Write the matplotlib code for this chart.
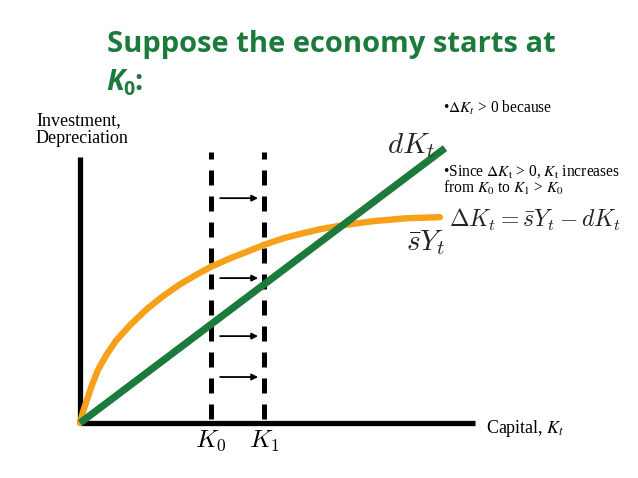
import matplotlib
matplotlib.use("Agg")
import matplotlib.pyplot as plt

# capital stock (x) and curves
k_line = [0.0, 10.0]
dk_line = [0.0, 7.53]

k_sy = [0.0, 0.08, 0.17, 0.31, 0.49, 0.72, 0.99, 1.37, 1.83, 2.28, 2.74, 3.20, 3.59,
        4.11, 4.57, 5.04, 5.57, 6.03, 6.58, 7.21, 8.04, 8.95, 9.86]
sy = [0.0, 0.30, 0.57, 0.99, 1.45, 1.86, 2.26, 2.68, 3.12, 3.48, 3.80, 4.07, 4.28,
      4.51, 4.69, 4.88, 5.06, 5.18, 5.31, 5.42, 5.53, 5.61, 5.64]

k0, k1 = 3.59, 5.04
arrow_y = [6.16, 3.97, 2.38, 1.26]

green = "#1b7a3c"
orange = "#f7a01a"

plt.rcParams["mathtext.fontset"] = "cm"

fig = plt.figure(figsize=(6.38, 4.78), dpi=100)
ax = fig.add_axes([0, 0, 1, 1])
ax.set_xlim(-80 / 36.5, 558 / 36.5)
ax.set_ylim(-55 / 36.5, 423 / 36.5)
ax.axis("off")

# axes
ax.plot([0, 0], [0, 7.29], color="black", lw=3.8, solid_capstyle="butt")
ax.plot([0, 10.82], [0, 0], color="black", lw=3.8, solid_capstyle="butt")

# K0 / K1 dashed lines
for k in (k0, k1):
    ax.plot([k, k], [0.1, 7.42], color="black", lw=3.6, dashes=(3, 2.2))

# curves
ax.plot(k_sy, sy, color=orange, lw=4.6, solid_capstyle="round", solid_joinstyle="round")
ax.plot(k_line, dk_line, color=green, lw=5.2, solid_capstyle="butt")

for y in arrow_y:
    ax.annotate("", xy=(4.88, y), xytext=(3.84, y),
                arrowprops=dict(arrowstyle="-|>", color="black", lw=1.3,
                                mutation_scale=9, shrinkA=0, shrinkB=0))

# labels on the curves
ax.text(8.4, 7.4, r"$dK_t$", fontsize=21, color="#222222")
ax.text(8.92, 4.74, r"$\bar{s}Y_t$", fontsize=21, color="#222222")
ax.text(10.1, 5.55, r"$\Delta K_t = \bar{s}Y_t - dK_t$", fontsize=17, color="#222222",
        va="center")
ax.text(k0, -0.15, r"$K_0$", fontsize=18, ha="center", va="top")
ax.text(k1, -0.15, r"$K_1$", fontsize=18, ha="center", va="top")

# title
fig.text(107 / 638, 1 - 52 / 478, "Suppose the economy starts at", color=green,
         fontsize=21, fontweight="bold", family="Open Sans")
fig.text(106 / 638, 1 - 90 / 478, "K", color=green, fontsize=21, fontweight="bold",
         fontstyle="italic", family="Open Sans")
fig.text(123 / 638, 1 - 95 / 478, "0", color=green, fontsize=14, fontweight="bold",
         family="Open Sans")
fig.text(134 / 638, 1 - 90 / 478, ":", color=green, fontsize=21, fontweight="bold",
         family="Open Sans")

# side texts
serif = "Liberation Serif"
fig.text(36 / 638, 1 - 143 / 478, "Investment,\nDepreciation", family=serif, fontsize=13,
         linespacing=1.1)
fig.text(486 / 638, 1 - 433 / 478, r"Capital, $K_t$", family=serif, fontsize=13,
         math_fontfamily="stix")
fig.text(443 / 638, 1 - 113 / 478, r"•$\Delta K_t$ > 0 because", family=serif,
         fontsize=11.2, math_fontfamily="stix")
fig.text(443 / 638, 1 - 193 / 478,
         "•Since $\\Delta K_{\\rm t}$ > 0, $K_{\\rm t}$ increases\nfrom $K_0$ to $K_1$ > $K_0$",
         family=serif, fontsize=11.2, math_fontfamily="stix", linespacing=0.95)

fig.savefig("out.png", dpi=100)
